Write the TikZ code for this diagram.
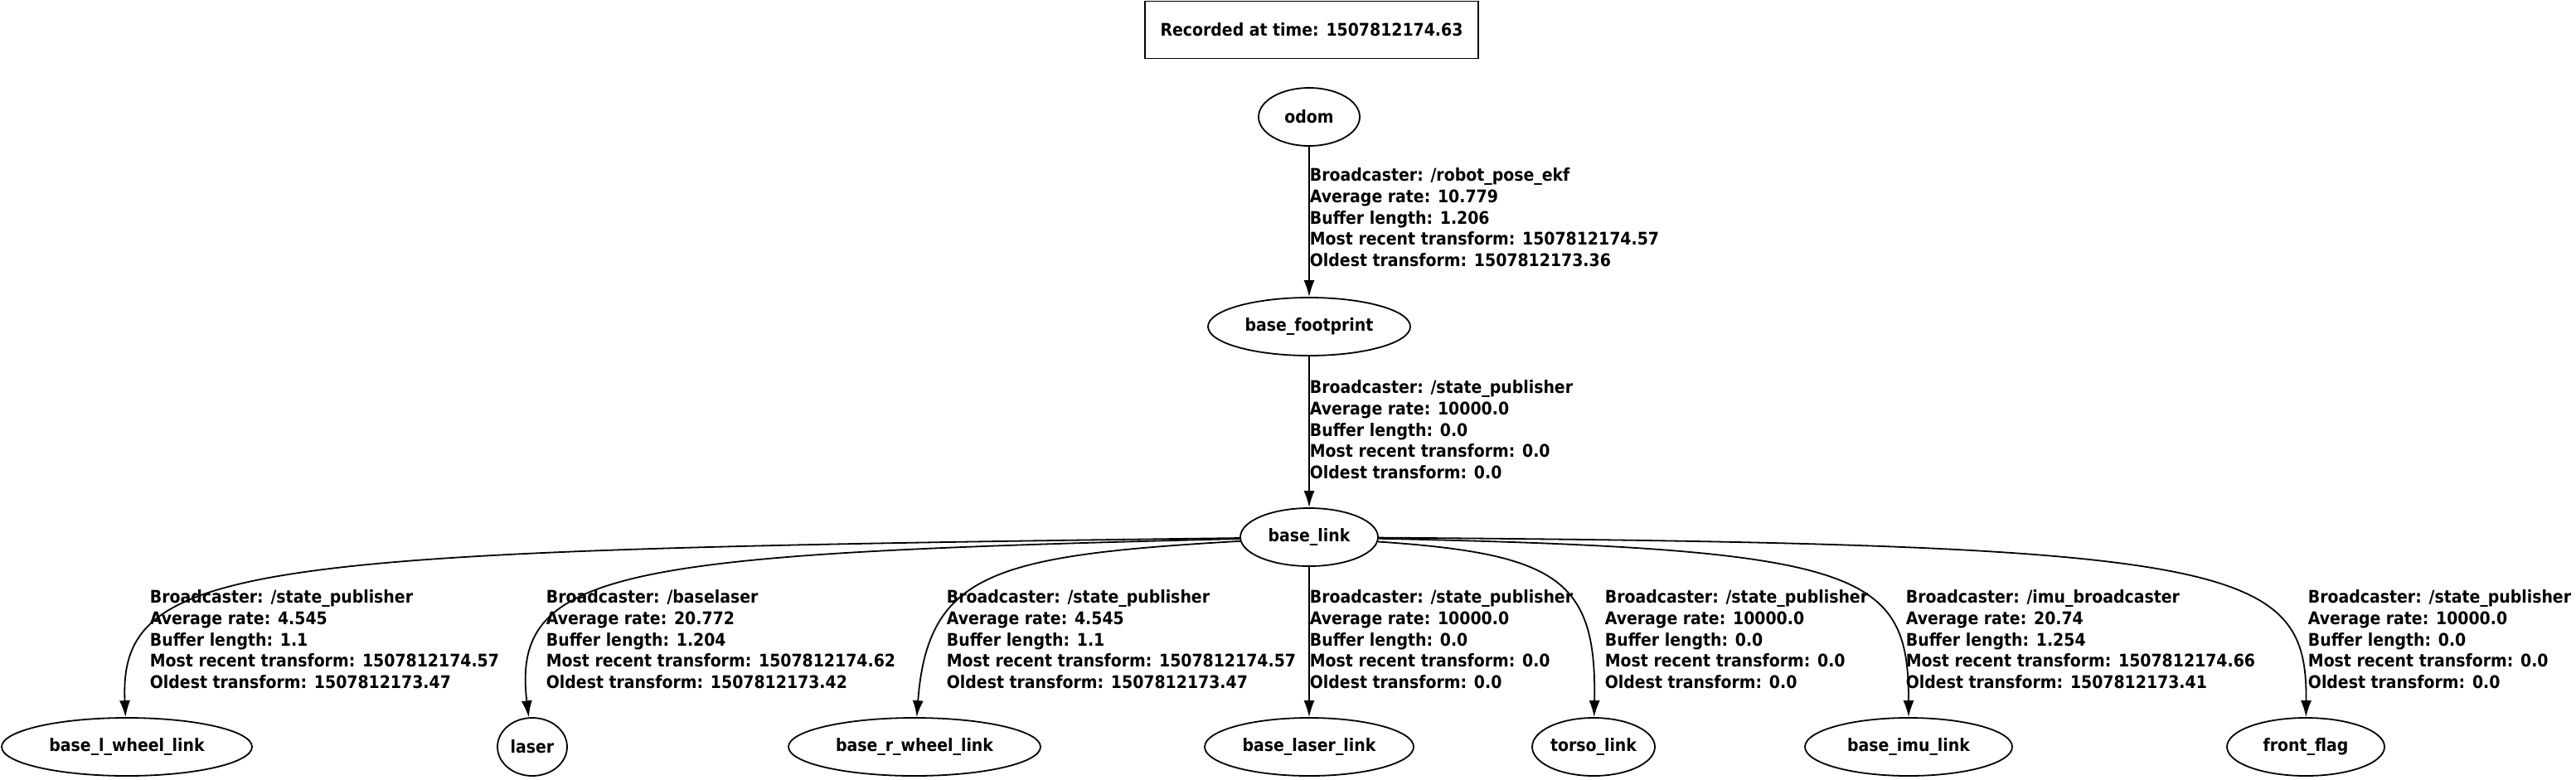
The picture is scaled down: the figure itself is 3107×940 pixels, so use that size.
\documentclass[tikz,border=0pt]{standalone}
\usepackage{fontspec}
\setmainfont{DejaVu Sans Condensed}
\usetikzlibrary{shapes.geometric,arrows.meta}
\begin{document}
\begin{tikzpicture}[x=1pt,y=-1pt,line width=1.8pt,
  every node/.style={font=\bfseries\fontsize{21}{25.7}\selectfont},
  nd/.style={draw,ellipse,minimum height=70pt,inner sep=0pt},
  lab/.style={anchor=north west,align=left,inner sep=0pt},
  edge/.style={-{Latex[length=20pt,width=13pt]}}]
\useasboundingbox (0,0) rectangle (3107,940);
\node[draw,minimum width=402pt,minimum height=69pt] (rec) at (1582,36) {Recorded at time: 1507812174.63};
\node[nd,minimum width=122pt] (odom) at (1579,141) {odom};
\node[nd,minimum width=244pt] (fp) at (1579,394) {base\_footprint};
\node[nd,minimum width=166pt] (bl) at (1579,648) {base\_link};
\node[nd,minimum width=302pt] (lw) at (153,901) {base\_l\_wheel\_link};
\node[nd,minimum width=84pt] (laser) at (642,901) {laser};
\node[nd,minimum width=304pt] (rw) at (1103,901) {base\_r\_wheel\_link};
\node[nd,minimum width=252pt] (ll) at (1579,901) {base\_laser\_link};
\node[nd,minimum width=148pt] (torso) at (1922,901) {torso\_link};
\node[nd,minimum width=250pt] (imu) at (2302,901) {base\_imu\_link};
\node[nd,minimum width=190pt] (ff) at (2781,901) {front\_flag};
\draw[edge] (odom) -- (fp);
\draw[edge] (fp) -- (bl);
\draw[edge] (bl) .. controls (300,664) and (143,676) .. (lw);
\draw[edge] (bl) .. controls (750,668) and (616,685) .. (laser);
\draw[edge] (bl) .. controls (1200,670) and (1119,690) .. (rw);
\draw[edge] (bl) -- (ll);
\draw[edge] (bl) .. controls (1880,668) and (1926,700) .. (torso);
\draw[edge] (bl) .. controls (2250,662) and (2302,690) .. (imu);
\draw[edge] (bl) .. controls (2700,656) and (2783,680) .. (ff);
\node[lab] (l1) at (1579,202) {Broadcaster: /robot\_pose\_ekf\\Average rate: 10.779\\Buffer length: 1.206\\Most recent transform: 1507812174.57\\Oldest transform: 1507812173.36};
\node[lab] (l2) at (1579,458) {Broadcaster: /state\_publisher\\Average rate: 10000.0\\Buffer length: 0.0\\Most recent transform: 0.0\\Oldest transform: 0.0};
\node[lab] (l3) at (180,711) {Broadcaster: /state\_publisher\\Average rate: 4.545\\Buffer length: 1.1\\Most recent transform: 1507812174.57\\Oldest transform: 1507812173.47};
\node[lab] (l4) at (658,711) {Broadcaster: /baselaser\\Average rate: 20.772\\Buffer length: 1.204\\Most recent transform: 1507812174.62\\Oldest transform: 1507812173.42};
\node[lab] (l5) at (1141,711) {Broadcaster: /state\_publisher\\Average rate: 4.545\\Buffer length: 1.1\\Most recent transform: 1507812174.57\\Oldest transform: 1507812173.47};
\node[lab] (l6) at (1579,711) {Broadcaster: /state\_publisher\\Average rate: 10000.0\\Buffer length: 0.0\\Most recent transform: 0.0\\Oldest transform: 0.0};
\node[lab] (l7) at (1935,711) {Broadcaster: /state\_publisher\\Average rate: 10000.0\\Buffer length: 0.0\\Most recent transform: 0.0\\Oldest transform: 0.0};
\node[lab] (l8) at (2298,711) {Broadcaster: /imu\_broadcaster\\Average rate: 20.74\\Buffer length: 1.254\\Most recent transform: 1507812174.66\\Oldest transform: 1507812173.41};
\node[lab] (l9) at (2783,711) {Broadcaster: /state\_publisher\\Average rate: 10000.0\\Buffer length: 0.0\\Most recent transform: 0.0\\Oldest transform: 0.0};
\end{tikzpicture}
\end{document}
